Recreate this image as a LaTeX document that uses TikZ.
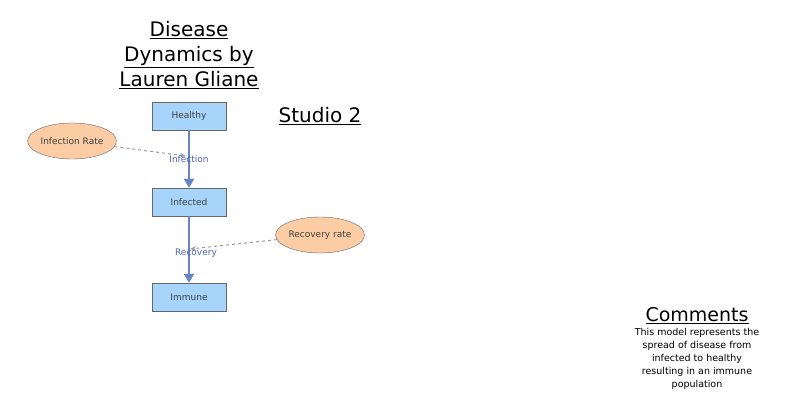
\documentclass[tikz,border=0pt]{standalone}
\usepackage{fontspec}
\setmainfont{DejaVu Sans}
\usetikzlibrary{shapes.geometric,arrows.meta}
\newcommand{\ul}[1]{\underline{#1}}
\begin{document}
\begin{tikzpicture}[x=1pt,y=-1pt,
  stock/.style={draw=black!60,fill=cyan!25!blue!20,fill={rgb,255:red,166;green,212;blue,250},minimum width=74pt,minimum height=28pt,font=\fontsize{9}{10}\selectfont,text=black!75},
  param/.style={ellipse,draw=black!60,fill={rgb,255:red,252;green,204;blue,164},minimum width=86pt,minimum height=36pt,inner sep=0pt,font=\fontsize{9}{10}\selectfont,text=black!75},
  flow/.style={draw={rgb,255:red,104;green,132;blue,196},line width=2.2pt,-{Triangle[length=9pt,width=10pt]}},
  flowlab/.style={font=\fontsize{9}{10}\selectfont,text={rgb,255:red,80;green,100;blue,170},inner sep=1pt},
  link/.style={draw=black!40,dashed,line width=1pt,-{Stealth[length=6pt]}},
  title/.style={font=\fontsize{20}{25}\selectfont,align=center}]
\useasboundingbox (0,0) rectangle (800,410);
\node[title] (t) at (189,55) {\ul{Disease}\\\ul{Dynamics by}\\\ul{Lauren Gliane}};
\node[title] (s) at (320,116) {\ul{Studio 2}};
\node[stock] (h) at (189,116) {Healthy};
\node[stock] (i) at (189,202) {Infected};
\node[stock] (m) at (189,297) {Immune};
\node[param] (ir) at (72,141) {Infection Rate};
\node[param] (rr) at (320,235) {Recovery rate};
\draw[flow] (h) -- (i);
\draw[flow] (i) -- (m);
\coordinate (fi) at (186,156);
\coordinate (fr) at (190,249);
\draw[link] (ir) -- (fi);
\draw[link] (rr) -- (fr);
\node[flowlab] (li) at (189,159) {Infection};
\node[flowlab] (lr) at (196,253) {Recovery};
\node[font=\fontsize{19}{22}\selectfont] (c) at (697,316) {\ul{Comments}};
\node[font=\fontsize{9.5}{13}\selectfont,align=center,anchor=north] (ct) at (697,325) {This model represents the\\spread of disease from\\infected to healthy\\resulting in an immune\\population};
\end{tikzpicture}
\end{document}
